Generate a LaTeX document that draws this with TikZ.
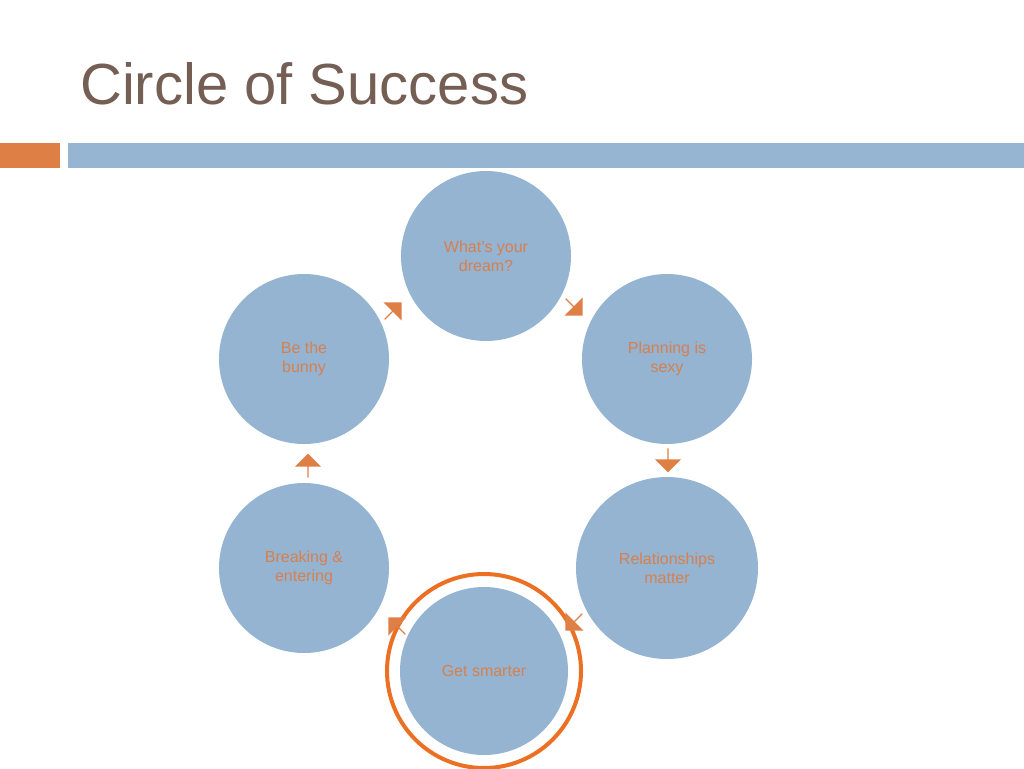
\documentclass[tikz,border=0pt]{standalone}
\usepackage{fontspec}
\setmainfont{Liberation Sans}
\usetikzlibrary{shapes.arrows}
\definecolor{cfill}{RGB}{148,180,210}
\definecolor{ctext}{RGB}{214,128,78}
\definecolor{arr}{RGB}{222,128,70}
\definecolor{ring}{RGB}{236,112,36}
\definecolor{titlec}{RGB}{117,95,85}
\definecolor{barblue}{RGB}{149,181,210}
\definecolor{barorange}{RGB}{222,128,70}
\tikzset{
 bub/.style={circle,fill=cfill,minimum size=#1,inner sep=0pt,align=center,text=ctext,font=\fontsize{16}{19}\selectfont},
 cyc/.style={single arrow,fill=arr,minimum height=24pt,minimum width=26pt,single arrow head extend=4pt,inner sep=0pt,rotate=#1}
}
\begin{document}
\begin{tikzpicture}[x=1pt,y=-1pt]
\useasboundingbox (0,0) rectangle (1024,768);
\node[anchor=base west,text=titlec,font=\fontsize{58}{60}\selectfont,inner sep=0pt] (title) at (80,104) {Circle of Success};
\fill[barorange] (0,143) rectangle (60,168);
\fill[barblue] (68,143) rectangle (1024,168);
\node[bub=170pt] (top) at (486,256) {What’s your\\dream?};
\node[bub=170pt] (ru) at (667,359) {Planning is\\sexy};
\node[bub=182pt] (rl) at (667,568) {Relationships\\matter};
\node[bub=168pt] (bot) at (484,671) {Get smarter};
\node[bub=170pt] (ll) at (304,568) {Breaking \&\\entering};
\node[bub=170pt] (lu) at (304,359) {Be the\\bunny};
\draw[ring,line width=4pt] (bot) circle[radius=97pt];
\node[cyc=45] (a1) at (393,311) {};
\node[cyc=-45] (a2) at (574,307) {};
\node[cyc=-90] (a3) at (668,460) {};
\node[cyc=-135] (a4) at (574,622) {};
\node[cyc=135] (a5) at (397,626) {};
\node[cyc=90] (a6) at (308,466) {};
\end{tikzpicture}
\end{document}
